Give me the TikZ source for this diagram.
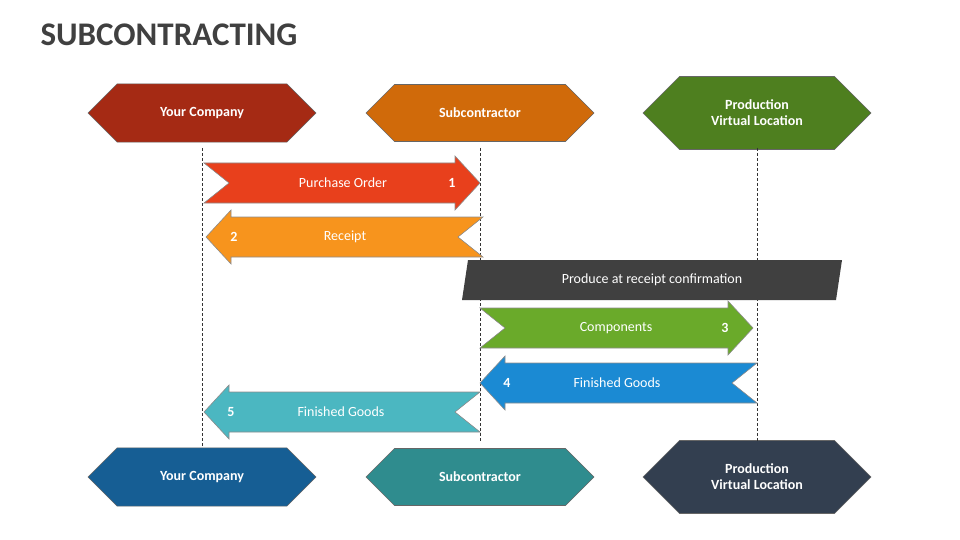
\documentclass[tikz,border=0pt]{standalone}
\usepackage{fontspec}
\setmainfont{Carlito}
\usetikzlibrary{shapes.misc, positioning}
\definecolor{titulo}{RGB}{64, 64, 64}
\definecolor{rojo}{RGB}{165, 42, 20}
\definecolor{naranjo}{RGB}{208, 106, 10}
\definecolor{verde}{RGB}{78, 127, 31}
\definecolor{azul}{RGB}{22, 94, 148}
\definecolor{turquesa}{RGB}{47, 140, 142}
\definecolor{marino}{RGB}{51, 63, 80}
\definecolor{flecha1}{RGB}{232, 64, 28}
\definecolor{flecha2}{RGB}{247, 148, 29}
\definecolor{flecha3}{RGB}{106, 170, 42}
\definecolor{flecha4}{RGB}{27, 138, 211}
\definecolor{flecha5}{RGB}{75, 183, 193}
\definecolor{banda}{RGB}{64, 64, 64}
\tikzset{
    head/.style={chamfered rectangle, chamfered rectangle xsep=15pt, chamfered rectangle ysep=23.5pt,
        minimum width=228pt, minimum height=47pt, inner sep=0pt, draw=black!60, line width=0.6pt,
        text=white, font=\bfseries\fontsize{14}{16}\selectfont, align=center},
    lane/.style={densely dashed, black!80, line width=0.9pt},
    arr/.style={draw=black!45, line width=0.6pt},
    lbl/.style={text=white, font=\fontsize{14}{16}\selectfont},
    num/.style={text=white, font=\bfseries\fontsize{14}{16}\selectfont},
}
% right arrow: x1, x2, ymid, colour
\newcommand{\rarrow}[4]{\fill[#4] (#1,#3-20) -- (#2-25,#3-20) -- (#2-25,#3-27) -- (#2,#3) -- (#2-25,#3+27) -- (#2-25,#3+20) -- (#1,#3+20) -- (#1+25,#3) -- cycle;
    \draw[arr] (#1,#3-20) -- (#2-25,#3-20) -- (#2-25,#3-27) -- (#2,#3) -- (#2-25,#3+27) -- (#2-25,#3+20) -- (#1,#3+20) -- (#1+25,#3) -- cycle;}
% left arrow: x1 (tip), x2, ymid, colour
\newcommand{\larrow}[4]{\fill[#4] (#2,#3-20) -- (#1+25,#3-20) -- (#1+25,#3-27) -- (#1,#3) -- (#1+25,#3+27) -- (#1+25,#3+20) -- (#2,#3+20) -- (#2-25,#3) -- cycle;
    \draw[arr] (#2,#3-20) -- (#1+25,#3-20) -- (#1+25,#3-27) -- (#1,#3) -- (#1+25,#3+27) -- (#1+25,#3+20) -- (#2,#3+20) -- (#2-25,#3) -- cycle;}
\begin{document}
\begin{tikzpicture}[x=1pt, y=-1pt]
    \useasboundingbox (0,0) rectangle (960,540);

    \node[anchor=west, text=titulo, font=\bfseries\fontsize{33}{36}\selectfont] (title) at (37,35) {SUBCONTRACTING};

    % top row
    \node[head, fill=rojo] (yc) at (202,113) {Your Company};
    \node[head, fill=naranjo] (sc) at (480,113) {Subcontractor};
    \node[head, fill=verde] (pv) at (757,113) {Production\\Virtual Location};
    % bottom row
    \node[head, fill=azul] (yc2) at (202,477) {Your Company};
    \node[head, fill=turquesa] (sc2) at (480,477) {Subcontractor};
    \node[head, fill=marino] (pv2) at (757,477) {Production\\Virtual Location};

    % lanes
    \draw[lane] (yc) ++(0,35) coordinate (l1) -- (l1 |- yc2.north) coordinate (l1e);
    \draw[lane] ([yshift=-35pt]sc.center) coordinate (l2) -- ([yshift=35pt]sc2.center);
    \draw[lane] ([yshift=-35pt]pv.center) coordinate (l3) -- ([yshift=35pt]pv2.center);

    % messages
    \rarrow{204}{480}{183}{flecha1}
    \node[lbl] (po) at (343,183) {Purchase Order};
    \node[num] (n1) at (452,183) {1};

    \larrow{206}{483}{237}{flecha2}
    \node[lbl] (rc) at (345,237) {Receipt};
    \node[num] (n2) at (234,237) {2};

    \fill[banda] (468,260) -- (842,260) -- (836,300) -- (462,300) -- cycle;
    \node[lbl] (pr) at (652,280) {Produce at receipt confirmation};

    \rarrow{480}{753}{328}{flecha3}
    \node[lbl] (cp) at (616,328) {Components};
    \node[num] (n3) at (725,328) {3};

    \larrow{480}{757}{383}{flecha4}
    \node[lbl] (fg) at (617,383) {Finished Goods};
    \node[num] (n4) at (507,383) {4};

    \larrow{204}{480}{412}{flecha5}
    \node[lbl] (fg2) at (341,412) {Finished Goods};
    \node[num] (n5) at (231,412) {5};
\end{tikzpicture}
\end{document}
